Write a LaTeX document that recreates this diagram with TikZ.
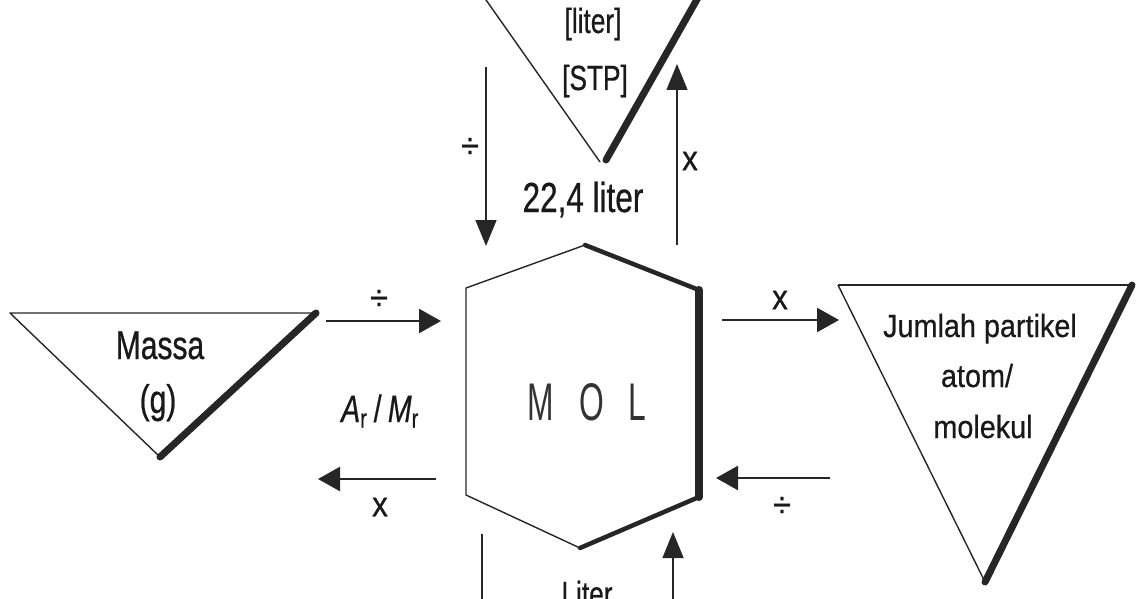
\documentclass[tikz,border=0pt]{standalone}
\usepackage{fontspec}
\setmainfont{Liberation Sans}[FakeStretch=0.75,FakeBold=0.6]
\newfontfamily\molfont{Liberation Sans}[FakeStretch=0.6]
\newfontfamily\jumlahfont{Liberation Sans}[FakeStretch=0.9,FakeBold=0.6]
\usetikzlibrary{arrows.meta}

\begin{document}
\begin{tikzpicture}[x=1pt,y=-1pt,
  thin edge/.style={draw=black!85, line width=1.4pt, line join=round},
  thick edge/.style={draw=black!85, line width=7pt, line cap=round},
  conv/.style={draw=black!85, line width=2.5pt, -{Triangle[length=22pt,width=24pt]}},
  vconv/.style={draw=black!85, line width=1.4pt, -{Triangle[length=26pt,width=21pt]}},
  lbl/.style={anchor=base, inner sep=0pt, text=black!90},
  sign/.style={anchor=center, inner sep=0pt, text=black!90, font=\fontsize{36}{40}\selectfont\jumlahfont}]
\useasboundingbox (0,0) rectangle (1142,599);
\clip (0,0) rectangle (1142,599);
%% volume gas (top)
\coordinate (vol-l) at (472,-20);
\coordinate (vol-a) at (600,162);
\coordinate (vol-b) at (606,160);
\coordinate (vol-r) at (708,-20);
\draw[thin edge] (vol-l) -- (vol-a);
\draw[thick edge] (vol-b) -- (vol-r);
\node[lbl, font=\fontsize{35}{40}\selectfont] (liter) at (593,33) {[liter]};
\node[lbl, font=\fontsize{35}{40}\selectfont] (stp) at (595,90) {[STP]};
\node[lbl, font=\fontsize{42}{48}\selectfont] (std) at (583,212) {22,4 liter};
%% mol (hexagon)
\coordinate (mol-t) at (585,245);
\coordinate (mol-ul) at (466,288);
\coordinate (mol-ll) at (466,495);
\coordinate (mol-b) at (580,548);
\coordinate (mol-lr) at (699,497);
\coordinate (mol-ur) at (699,290);
\draw[thin edge] (mol-t) -- (mol-ul) -- (mol-ll) -- (mol-b);
\draw[thick edge, line width=4.5pt] (mol-t) -- (mol-ur);
\draw[thick edge, line width=4.5pt] (mol-lr) -- (mol-b);
\draw[thick edge, line width=8pt] (mol-ur) -- (mol-lr);
\node[lbl, text=black!80, font=\fontsize{53}{60}\selectfont\molfont] (mol) at (587,420) {M\hspace{25pt}O\hspace{25pt}L};
%% massa (left)
\coordinate (massa-l) at (10,313);
\coordinate (massa-r) at (316,313);
\coordinate (massa-a) at (160,457);
\draw[thin edge] (massa-a) -- (massa-l) -- (massa-r);
\draw[thick edge] (massa-r) -- (massa-a);
\node[lbl, font=\fontsize{40}{48}\selectfont] (massa) at (160,359) {Massa};
\node[lbl, font=\fontsize{40}{48}\selectfont] (gram) at (158,413) {(g)};
%% jumlah partikel (right)
\coordinate (jml-l) at (838,285);
\coordinate (jml-r) at (1132,285);
\coordinate (jml-a) at (985,582);
\draw[thin edge] (jml-a) -- (jml-l);
\draw[thin edge, line width=2.5pt] (jml-l) -- (jml-r);
\draw[thick edge] (jml-r) -- (jml-a);
\node[lbl, font=\fontsize{32}{40}\selectfont\jumlahfont] (jml1) at (980,337) {Jumlah partikel};
\node[lbl, font=\fontsize{32}{40}\selectfont\jumlahfont] (jml2) at (977,387) {atom/};
\node[lbl, font=\fontsize{32}{40}\selectfont\jumlahfont] (jml3) at (983,438) {molekul};
%% volume gas (bottom)
\node[lbl, font=\fontsize{35}{40}\selectfont] (gas) at (587,606) {Liter};
%% conversions
\coordinate (massa-out) at (326,321);
\coordinate (mol-in-l) at (441,321);
\coordinate (mol-out-l) at (436,479);
\coordinate (massa-in) at (318,479);
\draw[conv] (massa-out) -- (mol-in-l);
\draw[conv] (mol-out-l) -- (massa-in);
\node[sign] (div-l) at (379,300) {÷};
\node[sign, font=\fontsize{35}{40}\selectfont\jumlahfont] (mul-l) at (380,507) {x};
\node[lbl, font=\fontsize{38}{44}\selectfont] (armr) at (380,422) {\textit{A}\textsubscript{r}\,/\,\textit{M}\textsubscript{r}};
\coordinate (mol-out-r) at (722,320);
\coordinate (jml-in) at (839,320);
\coordinate (jml-out) at (830,478);
\coordinate (mol-in-r) at (716,478);
\draw[conv] (mol-out-r) -- (jml-in);
\draw[conv] (jml-out) -- (mol-in-r);
\node[sign, font=\fontsize{35}{40}\selectfont\jumlahfont] (mul-r) at (780,300) {x};
\node[sign] (div-r) at (782,507) {÷};
\coordinate (vol-out) at (486,67);
\coordinate (mol-in-t) at (486,246);
\coordinate (mol-out-t) at (677,245);
\coordinate (vol-in) at (677,64);
\draw[vconv] (vol-out) -- (mol-in-t);
\draw[vconv] (mol-out-t) -- (vol-in);
\node[sign] (div-t) at (470,148) {÷};
\node[sign, font=\fontsize{35}{40}\selectfont\jumlahfont] (mul-t) at (690,161) {x};
\coordinate (mol-out-b) at (482,534);
\coordinate (gas-in) at (482,650);
\coordinate (gas-out) at (673,650);
\coordinate (mol-in-b) at (673,532);
\draw[vconv] (mol-out-b) -- (gas-in);
\draw[vconv] (gas-out) -- (mol-in-b);
\end{tikzpicture}
\end{document}
